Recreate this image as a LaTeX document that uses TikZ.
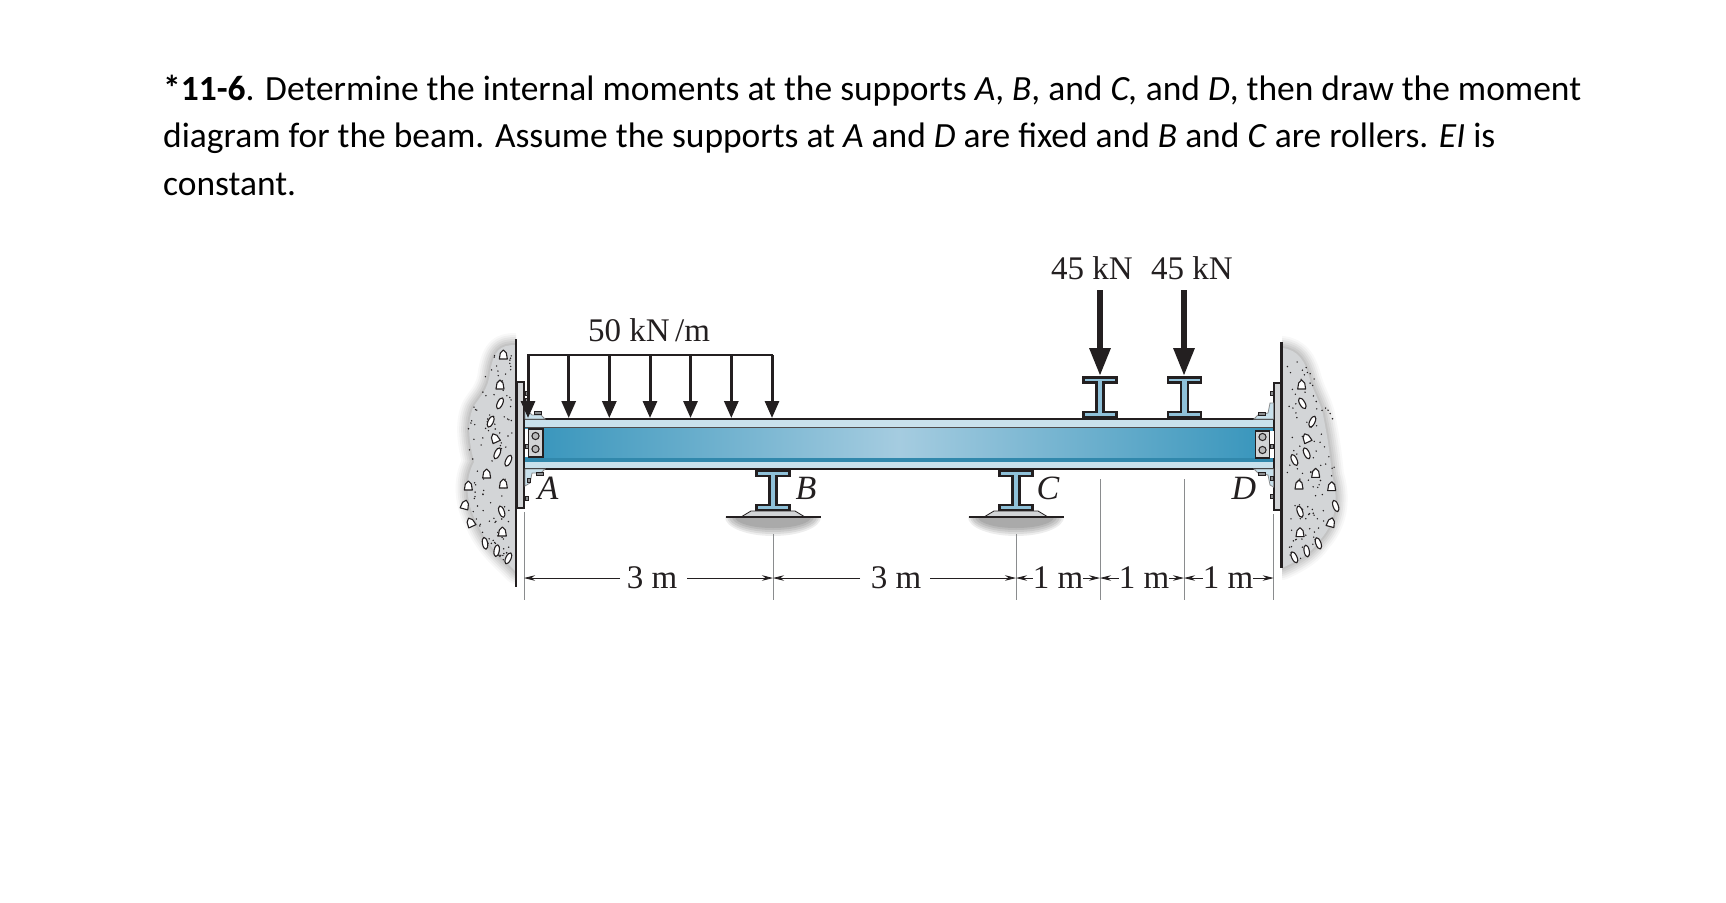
\documentclass[tikz,border=0pt]{standalone}
\usepackage{fontspec}
\setmainfont{Liberation Serif}
\newfontfamily\probfont{Carlito}
\usetikzlibrary{arrows.meta,calc}
\definecolor{inkc}{HTML}{231F20}
\definecolor{steelc}{HTML}{8FC1D9}
\definecolor{flangec}{HTML}{C9E1EC}
\definecolor{webend}{HTML}{3594BB}
\definecolor{webmid}{HTML}{A5CCE0}
\definecolor{platec}{HTML}{D2D4D6}
\definecolor{concc}{HTML}{D3D5D7}
\definecolor{dimc}{HTML}{8A8C8E}
\tikzset{
  prob/.style={anchor=base west,inner sep=0pt,font=\probfont\fontsize{35.45}{35.45}\selectfont,text=black},
  lab/.style={inner sep=0pt,font=\fontsize{33}{33}\selectfont,text=inkc},
  ital/.style={inner sep=0pt,font=\fontsize{34}{34}\selectfont\itshape,text=inkc},
  udlarrow/.style={draw=inkc,line width=3pt,-{Triangle[length=17pt,width=14pt,color=inkc]}},
  loadarrow/.style={draw=inkc,line width=6pt,-{Triangle[length=28pt,width=20pt,color=inkc]}},
  extline/.style={draw=dimc,line width=0.9pt},
  dimline/.style={draw=inkc,line width=0.8pt},
  dimtip/.style={dimline,-{Stealth[length=11pt,width=5.5pt,color=inkc]}},
  steel/.style={draw=inkc,line width=2.6pt,fill=steelc},
  aggr/.style={draw=inkc,line width=1.1pt,fill=white,line join=round},
  wallline/.style={draw=inkc,line width=2.8pt},
  plate/.style={draw=inkc,line width=1.2pt,fill=platec},
  angleclip/.style={draw=dimc,line width=0.8pt,fill=flangec},
  bolt/.style={draw=inkc,line width=1pt,fill=dimc!60},
}
\newcommand{\househere}[3]{\draw[aggr,shift={(#1,#2)},rotate=-#3] (-4,4) -- (-3,-2) -- (0,-5) -- (3,-2) -- (4,4) -- cycle;}
\newcommand{\ovalhere}[3]{\draw[aggr,shift={(#1,#2)},rotate=-#3] (0,0) ellipse (2.6pt and 6pt);}
\newcommand{\isection}[3]{%
  \path[steel] (#1-16.5,#2+1) rectangle (#1+16.5,#2+6);
  \path[steel] (#1-16.5,#3-6) rectangle (#1+16.5,#3-1);
  \path[steel] (#1-3.5,#2+6) rectangle (#1+3.5,#3-6);
  \fill[steelc] (#1-2.2,#2+4) rectangle (#1+2.2,#3-4);
}
\newcommand{\supportbase}[1]{%
  \begin{scope}
    \clip (#1-60,517) rectangle (#1+60,545);
    \foreach \r/\s/\o in {48/19/0.12,46/17/0.14,44/15/0.16,41/13/0.18,38/11/0.22}{
      \fill[black!55,opacity=\o] (#1,517) ellipse (\r pt and \s pt);
    }
  \end{scope}
  \draw[draw=inkc,line width=0.8pt,fill=platec] (#1-32,517) -- (#1-22,511) -- (#1+22,511) -- (#1+32,517) -- cycle;
  \draw[inkc,line width=2.2pt] (#1-47.5,517) -- (#1+47.5,517);
}
\begin{document}
\begin{tikzpicture}[x=1pt,y=-1pt]
\path[use as bounding box,fill=white] (0,0) rectangle (1726,902);

% problem text
\node[prob] (line1) at (163,100) {\textbf{*11-6}. Determine the internal moments at the supports \textit{A}, \textit{B}, and \textit{C,} and \textit{D}, then draw the moment};
\node[prob] (line2) at (163,147) {diagram for the beam. Assume the supports at \textit{A} and \textit{D} are fixed and \textit{B} and \textit{C} are rollers. \textit{EI} is};
\node[prob] (line3) at (163,195) {constant.};

% concrete, left
\begin{scope}
  \clip (440,330) rectangle (516,600);
  \foreach \w/\o in {24/0.06,20/0.08,16/0.10,12/0.12,8/0.14,4/0.16}{
    \draw[draw=black!45,line width=\w pt,opacity=\o,line join=round]
      (516,345) .. controls (500,345) and (494,350) .. (490,372)
      .. controls (488,392) and (478,398) .. (473,408)
      .. controls (466,425) and (470,445) .. (474,462)
      .. controls (464,480) and (466,505) .. (478,525)
      .. controls (488,548) and (505,560) .. (516,572) -- cycle;
  }
  \fill[concc]
      (516,345) .. controls (500,345) and (494,350) .. (490,372)
      .. controls (488,392) and (478,398) .. (473,408)
      .. controls (466,425) and (470,445) .. (474,462)
      .. controls (464,480) and (466,505) .. (478,525)
      .. controls (488,548) and (505,560) .. (516,572) -- cycle;
\end{scope}
% concrete, right
\begin{scope}
  \clip (1282,330) rectangle (1365,590);
  \foreach \w/\o in {24/0.06,20/0.08,16/0.10,12/0.12,8/0.14,4/0.16}{
    \draw[draw=black!45,line width=\w pt,opacity=\o,line join=round]
      (1282,348) .. controls (1298,350) and (1305,360) .. (1310,380)
      .. controls (1316,398) and (1322,405) .. (1324,420)
      .. controls (1328,440) and (1330,455) .. (1332,475)
      .. controls (1338,495) and (1338,520) .. (1320,540)
      .. controls (1310,555) and (1295,562) .. (1282,568) -- cycle;
  }
  \fill[concc]
      (1282,348) .. controls (1298,350) and (1305,360) .. (1310,380)
      .. controls (1316,398) and (1322,405) .. (1324,420)
      .. controls (1328,440) and (1330,455) .. (1332,475)
      .. controls (1338,495) and (1338,520) .. (1320,540)
      .. controls (1310,555) and (1295,562) .. (1282,568) -- cycle;
\end{scope}
% dots
\pgfmathsetseed{4711}
\foreach \i in {1,...,110}{
  \pgfmathsetmacro{\dy}{355+rnd*205}
  \pgfmathsetmacro{\dx}{516-4-rnd*(14+34*sin((\dy-345)*0.8))}
  \fill[inkc] (\dx,\dy) circle (0.8pt);
}
\foreach \i in {1,...,110}{
  \pgfmathsetmacro{\dy}{360+rnd*200}
  \pgfmathsetmacro{\dx}{1282+4+rnd*(14+38*sin((\dy-345)*0.8))}
  \fill[inkc] (\dx,\dy) circle (0.8pt);
}
% aggregates, left
\foreach \X/\Y in {190/75,180/165,140/432,190/462,85/468,187/606}{
  \househere{440+\X/3}{330+\Y/3}{0}
}
\foreach \X/\Y/\R in {165/325/-25,75/525/15,92/578/-25}{
  \househere{440+\X/3}{330+\Y/3}{\R}
}
\foreach \X/\Y/\R in {180/220/25,152/275/25,172/370/25,205/392/25,185/545/-20,135/640/-10,170/662/10,205/685/25}{
  \ovalhere{440+\X/3}{330+\Y/3}{\R}
}
% aggregates, right
\foreach \X/\Y in {1025/435,1067/700,1017/735,1115/740,1020/878}{
  \househere{960+\X/3}{240+\Y/3}{0}
}
\foreach \X/\Y/\R in {1040/595/-25,1113/848/15}{
  \househere{960+\X/3}{240+\Y/3}{\R}
}
\foreach \X/\Y/\R in {1027/490/-30,1057/545/25,1003/660/-25,1040/640/-25,1127/798/-20,1020/815/-20,1003/952/-25,1040/933/-10,1075/910/-20}{
  \ovalhere{960+\X/3}{240+\Y/3}{\R}
}

% beam
\fill[flangec] (524,419) rectangle (1274,469);
\shade[left color=webend,right color=webend,middle color=webmid] (524,427) rectangle (1274,458.5);
\fill[webend!92!black] (524,458) rectangle (1274,462);
\draw[inkc!80,line width=1pt] (524,427) -- (1274,427);
\draw[inkc,line width=2pt] (524,419) -- (1274,419);
\draw[inkc,line width=2pt] (524,469) -- (1274,469);

% left connection
\path[plate] (517.5,382) rectangle (524,508);
\fill[white] (525,429) rectangle (528.5,457);
\draw[plate] (528.5,429) rectangle (543,457);
\foreach \yy in {436,449}{ \draw[bolt] (535.5,\yy) circle (3.6pt); }
\path[angleclip] (525,411) -- (528,411) -- (532,415) -- (541,415) -- (545,419) -- (525,419) -- cycle;
\path[angleclip] (525,469) -- (545,469) -- (541,473) -- (532,473) -- (530,483) -- (525,486) -- cycle;
\foreach \bx/\by in {525/391,525/398,525/444,525/496,527/478}{
  \draw[inkc,line width=0.8pt,fill=dimc] (\bx,\by) rectangle (\bx+3.5,\by+4.5);
}
\foreach \bx/\by in {534/411,536/472}{ \draw[inkc,line width=0.8pt,fill=dimc] (\bx,\by) rectangle (\bx+7,\by+3); }

% right connection
\path[plate] (1274,383) rectangle (1281,510);
\fill[white] (1269.5,431) rectangle (1273.5,458);
\draw[plate] (1255.5,431) rectangle (1269.5,458);
\foreach \yy in {437,450}{ \draw[bolt] (1262.5,\yy) circle (3.6pt); }
\path[angleclip] (1273.5,403) -- (1270,403) -- (1268,413) -- (1258,415) -- (1254,419) -- (1273.5,419) -- cycle;
\path[angleclip] (1273.5,469) -- (1254,469) -- (1258,473) -- (1268,475) -- (1270,485) -- (1273.5,487) -- cycle;
\foreach \bx/\by in {1270/391,1270/444,1270/494,1270/476}{
  \draw[inkc,line width=0.8pt,fill=dimc] (\bx,\by) rectangle (\bx+3.5,\by+4.5);
}
\foreach \bx/\by in {1258/412,1258/472}{ \draw[inkc,line width=0.8pt,fill=dimc] (\bx,\by) rectangle (\bx+7,\by+3); }

% walls
\draw[wallline] (516,339) -- (516,587);
\draw[wallline] (1281.8,342) -- (1281.8,568);

% roller supports
\supportbase{773}
\supportbase{1016}
\isection{773}{470}{511}
\isection{1016}{470}{511}
% load-spreading sections
\isection{1100}{376.5}{418}
\isection{1184.5}{376.5}{418}

% distributed load
\coordinate (utl) at (527,355);
\coordinate (utr) at (773,355);
\draw[inkc,line width=1.1pt] (utl) -- (utr);
\foreach \n/\x in {1/528,2/568.7,3/609.3,4/650,5/690.5,6/731.3,7/772}{
  \coordinate (ut\n) at (\x,355);
  \coordinate (ub\n) at (\x,418);
  \draw[udlarrow] (ut\n) -- (ub\n);
}
\node[lab] (udllabel) at (649,330) {50 kN\,/m};

% point loads
\coordinate (pt1) at (1100,290);
\coordinate (pb1) at (1100,376);
\coordinate (pt2) at (1184,290);
\coordinate (pb2) at (1184,376);
\draw[loadarrow] (pt1) -- (pb1);
\draw[loadarrow] (pt2) -- (pb2);
\node[lab] (load1) at (1092,268) {45 kN};
\node[lab] (load2) at (1192,268) {45 kN};

% letters
\node[ital] (la) at (548,488) {A};
\node[ital] (lb) at (806,488) {B};
\node[ital] (lc) at (1048,488) {C};
\node[ital] (ld) at (1244,488) {D};

% extension lines
\foreach \n/\x/\t in {a/524/512,b/773/534,c/1016/534,e/1100/479,f/1184/479,d/1273.7/514}{
  \coordinate (x\n t) at (\x,\t);
  \coordinate (x\n b) at (\x,600);
  \coordinate (x\n m) at (\x,578);
  \draw[extline] (x\n t) -- (x\n b);
}
% dimension labels
\node[lab] (d1) at (652,578) {3 m};
\node[lab] (d2) at (896,578) {3 m};
\node[lab] (d3) at (1058,578) {1 m};
\node[lab] (d4) at (1144,578) {1 m};
\node[lab] (d5) at (1228,578) {1 m};
% dimension lines
\draw[dimtip] (620,578) -- (xam);
\draw[dimtip] (687,578) -- (xbm);
\draw[dimtip] (860,578) -- (xbm);
\draw[dimtip] (930,578) -- (xcm);
\draw[dimtip] (d3.west) -- (xcm);
\draw[dimtip] (d3.east) -- (xem);
\draw[dimtip] (d4.west) -- (xem);
\draw[dimtip] (d4.east) -- (xfm);
\draw[dimtip] (d5.west) -- (xfm);
\draw[dimtip] (d5.east) -- (xdm);
\end{tikzpicture}
\end{document}
